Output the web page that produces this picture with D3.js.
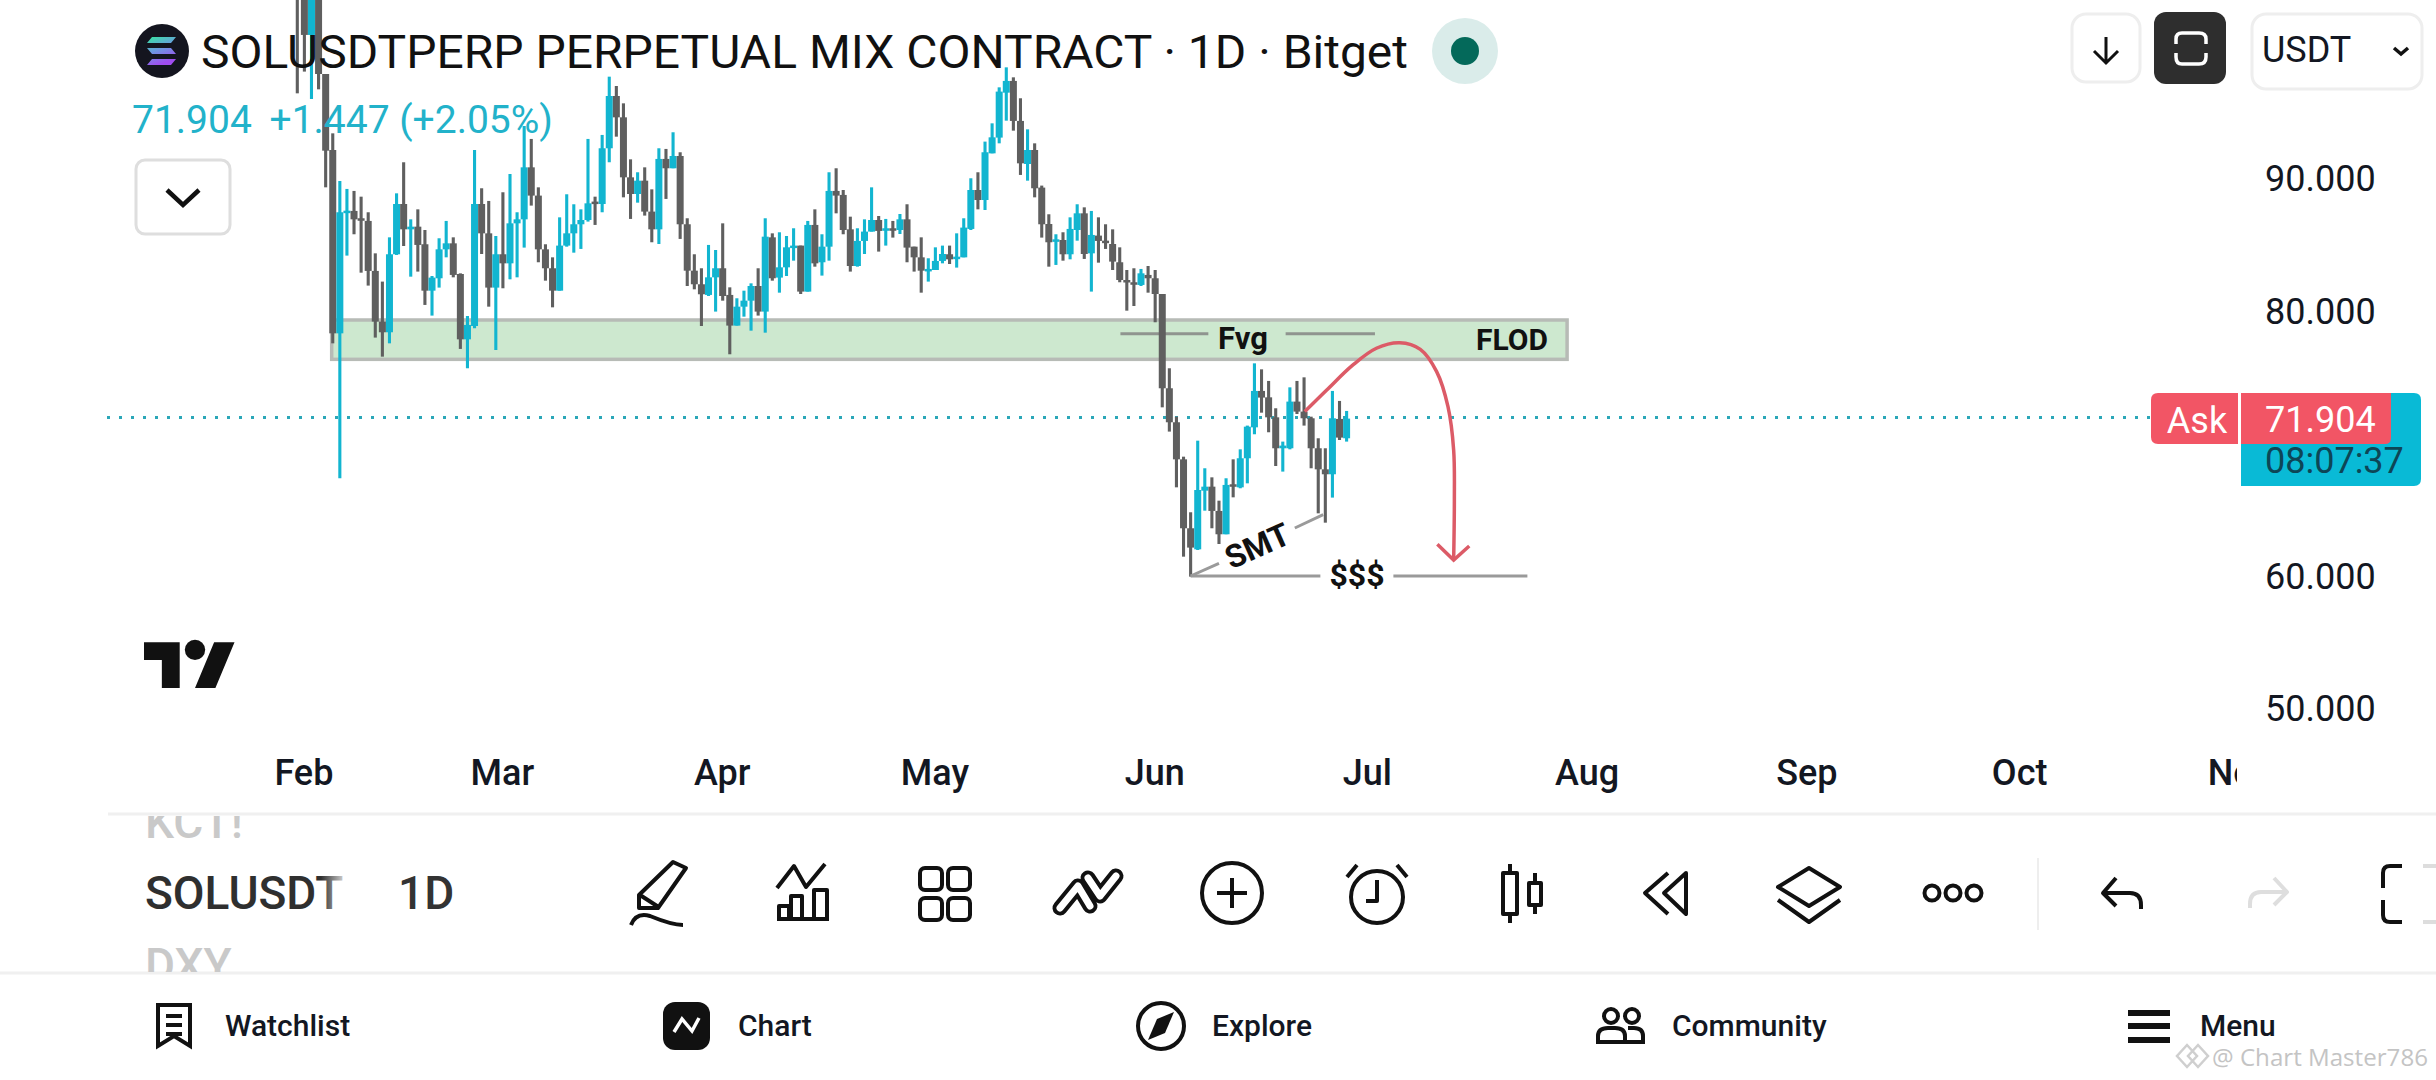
<!DOCTYPE html>
<html><head><meta charset="utf-8">
<script src="https://cdn.jsdelivr.net/npm/d3@7/dist/d3.min.js"></script>
<style>html,body{margin:0;padding:0;background:#fff;overflow:hidden}svg{display:block;font-family:Roboto,sans-serif}</style>
</head><body><svg id="c" width="2436" height="1080"></svg>
<script>
const firstDay="2026-01-31";
const opens=[107,105,100.68,105,97.75,92.05,78.3,87.38,87.48,86.93,86.73,82.98,79.18,78.38,84.23,88,86.1,86.3,84.98,81.5,82.43,84.6,85.05,82.75,77.85,78.85,88,85.8,81.73,84.23,83.55,86.55,86.85,90.75,88.63,84.6,83.18,81.5,84.88,85.8,86.48,86.8,88.18,88,92.18,96.1,94.5,90,88.75,89.75,87.43,86.1,91.38,90.68,91.6,86.48,83,81.98,81.18,82.5,83.18,81.18,78.88,80.3,80.75,81.85,79.93,85.5,82.48,83.25,84.75,84.88,81.43,86.43,83.63,84.8,88.98,88.68,86.1,83.35,85.23,85.93,86.8,86.05,86.18,86.05,86.85,84.8,84,83,83.05,83.73,84.23,83.93,84,86.13,89.05,88.3,91.8,92.98,96.35,97.23,94.23,91,92.05,89.23,86.5,85.18,85.3,84.23,86.05,87.3,84.3,85.63,85.25,85,83.63,82.3,82.13,81.93,82.68,82.43,81.25,74.18,71.63,68.85,63.68,62.1,66.5,66.8,64.98,63.23,66.98,66.75,68.93,71.25,73.98,73.5,72,69.68,69.68,73.18,72.43,71.93,69.68,68.1,67.73,71.88,70.43];
const highs=[108,106,106,106,97.75,93.3,89.73,89.13,88.98,88.55,87.38,84.3,82.18,85.5,88.8,91.13,86.85,87.6,86.05,82.6,85.43,86.73,85.5,82.8,79.6,92.05,89.18,88.23,85.6,88.88,90.25,87.38,93.85,92.88,89.25,84.98,84,87,88.73,87.98,87.6,92.88,88.55,93.18,97.55,96.85,95.55,91.35,90.38,90.75,89.1,92.18,92.13,93.38,91.88,86.93,84.23,83.18,84.93,84.55,86.55,81.75,80.93,81.5,82.05,83.18,86.93,85.8,85.88,85.6,86.18,84.88,86.73,87.6,85.73,90.38,90.68,89.05,87.05,86.18,86.85,89.25,87.1,86.88,86.73,87.25,87.98,84.8,85.5,83.93,84.75,84.88,84.88,85.8,86.93,89.93,90.38,92.68,94.05,96.75,98.25,97.5,95.93,93.6,92.55,89.38,87.23,85.73,85.88,87,87.98,87.75,87.48,87,86.48,86.1,84.75,83.05,83.18,83.13,83.35,83.05,81.25,75.68,72.05,69.05,64.88,70.25,68.18,67.5,65.75,67.43,68.85,69.6,71.38,76.05,75.6,74.73,72.68,70.18,74.25,74.73,75,72.05,70.43,69.68,73.98,73.23,72.48];
const lows=[96.3,97.93,95.88,96.6,89.25,77.55,67.43,84.13,85.73,82.85,81.88,77.98,76.55,77.55,84.18,84.85,82.55,82.93,80.43,79.63,81.73,84,82.5,77.13,75.68,78.68,84.25,80.3,77.05,81.68,82.35,82.5,84.73,87.88,83.63,82.25,80.25,81.5,84.8,84.35,84.63,86.68,86.43,87.38,91.13,93.05,88.5,86.88,88.1,87.13,85.13,85,88.38,90.68,85.38,81.85,81.6,78.85,81.1,79.93,80.75,76.73,78.88,79.55,78.5,79.63,78.35,82.25,81.35,82.6,83.75,81.25,81.43,83.3,82.63,83.75,87.3,85.73,82.93,83.3,84.25,85.93,84.43,84.88,85.48,85.75,83.63,82.93,81.35,82.18,83.05,83.55,83.5,83.23,84,86.05,87.6,87.55,91.8,92.55,94.25,93.5,90.18,89.75,88.5,85.48,83.3,83.43,83.75,83.85,85.25,83.88,81.43,83.6,84.63,83.05,82.13,80,80.35,81.85,81.35,79.13,72.75,70.93,66.75,61.55,60.05,62.05,65,63.68,62.5,63.23,66,66.68,67.05,70.73,72.35,70.88,68.35,67.93,69.6,72.25,71.38,68.18,64.8,64.1,65.98,70.3,70.18];
const closes=[105,100.68,105,97.75,92,78.3,87.38,87.5,86.85,86.78,82.98,79.18,78.38,84.23,88,86.1,86.3,84.93,81.5,82.48,84.6,85.05,82.68,77.85,78.93,88,85.8,81.73,84.23,83.55,86.55,86.85,90.75,88.63,84.6,83.18,81.5,84.88,85.8,86.48,86.8,88.05,88,92.18,96.1,94.5,90,88.75,89.75,87.43,86.1,91.38,90.68,91.6,86.48,83,81.98,81.23,82.5,83.18,81.1,78.88,80.3,80.75,81.85,79.93,85.55,82.43,83.25,84.75,84.88,81.43,86.43,83.55,84.8,88.98,88.63,86.05,83.35,85.23,85.93,86.8,85.98,86.18,86.05,86.85,84.73,84,83,83.13,83.73,84.25,83.85,84.05,86.23,89.05,88.3,91.88,93,96.43,97.23,94.23,91.05,92.05,89.18,86.48,85.13,85.35,84.23,86.13,87.3,84.25,85.68,85.23,85.1,83.68,82.3,82.13,81.98,82.8,82.43,81.25,74.18,71.63,68.85,63.68,62.23,66.55,66.8,64.98,63.23,66.93,66.85,68.93,71.3,73.98,73.48,72,69.68,69.88,73.18,72.43,71.93,69.68,68.1,67.73,71.93,70.48,71.904];
const yTicks=[50,60,80,90];
const lastPrice=71.904;
const zonePrices=[79.3,76.35], zoneDays=[4.85,179.1];
const fvgLevel=76.3+1.97, fvgSegments=[[116.1,128.5],[139.4,152]];
const liqLevel=60.1, liqSegments=[[126,144.3],[154.6,173.5]];
const smtSegments=[[[126,60.1],[130,61.05]],[[140.7,63.7],[144.7,64.7]]];
const arrowDays=[142.1,145.2,148.9,152.2,155.5,158.4,160.7,162.3,163.1,163.2,163.1];
const arrowPrices=[72.43,74.05,75.93,77.18,77.6,77.1,75.43,72.8,69.55,65.8,61.3];
const headDays=[160.8,163.1,165.3], headPrices=[62.48,61.3,62.35];

const svg=d3.select("#c");
const dayMs=864e5, t0=Date.UTC(2026,0,31);
const t=i=>new Date(t0+i*dayMs);
const x=d3.scaleUtc().domain([t(0),t(148)]).range([297.3,1346.6]);
const y=d3.scaleLinear().domain([103.3,50]).range([0,710.67]);
const UP="#12b5d0",DOWN="#5f5f5f",RED="#f25565";
svg.append("rect").attr("width",2436).attr("height",1080).attr("fill","#fff");

// zone
svg.append("rect").attr("x",x(t(zoneDays[0]))).attr("y",y(zonePrices[0])).attr("width",x(t(zoneDays[1]))-x(t(zoneDays[0])))
 .attr("height",y(zonePrices[1])-y(zonePrices[0])).attr("fill","#cde8cf").attr("stroke","#b7bbb6").attr("stroke-width",3.5);

// price line
svg.append("line").attr("x1",107).attr("x2",2151).attr("y1",y(lastPrice)-1).attr("y2",y(lastPrice)-1)
 .attr("stroke","#2ba7b8").attr("stroke-width",3).attr("stroke-dasharray","3 9");

// annotation lines under candles
const ann=svg.append("g").attr("stroke","#8f948f").attr("stroke-width",3).attr("fill","none");
fvgSegments.forEach(s=>ann.append("line").attr("x1",x(t(s[0]))).attr("x2",x(t(s[1]))).attr("y1",y(fvgLevel)).attr("y2",y(fvgLevel)));

// candles
const candles=d3.range(opens.length).map(i=>({i,o:opens[i],h:highs[i],l:lows[i],c:closes[i]}));
const g=svg.append("g");
g.selectAll(".w").data(candles).join("line").attr("x1",d=>x(t(d.i))).attr("x2",d=>x(t(d.i))).attr("y1",d=>y(d.h)).attr("y2",d=>y(d.l))
 .attr("stroke",d=>d.c>=d.o?UP:DOWN).attr("stroke-width",3.1);
g.selectAll(".b").data(candles).join("rect").attr("x",d=>x(t(d.i))-3.5).attr("width",7)
 .attr("y",d=>y(Math.max(d.o,d.c))).attr("height",d=>Math.max(2.5,Math.abs(y(d.o)-y(d.c))))
 .attr("fill",d=>d.c>=d.o?UP:DOWN);

// annotations
const ann2=svg.append("g").attr("stroke","#9a9a9a").attr("stroke-width",3).attr("fill","none");
liqSegments.forEach(s=>ann2.append("line").attr("x1",x(t(s[0]))).attr("x2",x(t(s[1]))).attr("y1",y(liqLevel)).attr("y2",y(liqLevel)));
smtSegments.forEach(s=>ann2.append("line").attr("x1",x(t(s[0][0]))).attr("y1",y(s[0][1])).attr("x2",x(t(s[1][0]))).attr("y2",y(s[1][1])));
const labelStyle=s=>s.attr("font-family","Roboto").attr("font-weight",700).attr("fill","#111");
svg.append("text").attr("x",1243).attr("y",349).attr("text-anchor","middle").attr("font-size",31).text("Fvg").call(labelStyle);
svg.append("text").attr("x",1512).attr("y",350).attr("text-anchor","middle").attr("font-size",30).text("FLOD").call(labelStyle);
svg.append("text").attr("x",1357).attr("y",586).attr("text-anchor","middle").attr("font-size",32).text("$$$").call(labelStyle);
svg.append("text").attr("transform","translate(1262,556) rotate(-24)").attr("text-anchor","middle").attr("font-size",32).text("SMT").call(labelStyle);
const ln=d3.line().x(d=>x(t(d[0]))).y(d=>y(d[1]));
svg.append("path").attr("d",ln.curve(d3.curveCatmullRom)(d3.zip(arrowDays,arrowPrices))).attr("fill","none").attr("stroke","#dc5b67").attr("stroke-width",3.5);
svg.append("path").attr("d",ln.curve(d3.curveLinear)(d3.zip(headDays,headPrices))).attr("fill","none").attr("stroke","#dc5b67").attr("stroke-width",3.5);

// axes
const yTickScale=d3.scaleLinear().domain([90,50]).range([178,708]);
const yAxis=svg.append("g").attr("transform","translate(2265,0)").call(d3.axisRight(yTickScale).tickValues(yTicks).tickSize(0).tickPadding(0).tickFormat(d3.format(".3f")));
yAxis.select(".domain").remove();
yAxis.selectAll("text").attr("font-family","Roboto").attr("font-size",36).attr("fill","#131722").attr("dy","0.36em");
const xMax=new Date(Date.UTC(2026,10,2));
const xAxisScale=x.copy().domain([t(0),xMax]).range([x(t(0)),x(xMax)]);
svg.append("clipPath").attr("id","xc").append("rect").attr("x",0).attr("y",740).attr("width",2237).attr("height",70);
const xAxis=svg.append("g").attr("clip-path","url(#xc)").append("g").attr("transform","translate(-1,772)")
 .call(d3.axisBottom(xAxisScale).ticks(d3.utcMonth.every(1)).tickSize(0).tickPadding(0).tickFormat(d3.utcFormat("%b")));
xAxis.select(".domain").remove();
xAxis.selectAll("text").attr("font-family","Roboto").attr("font-weight",500).attr("font-size",36).attr("fill","#131722").attr("dy","0.36em");

// tradingview logo
svg.append("path").attr("transform","translate(144,632) scale(2.55)").attr("fill","#111")
 .attr("d","M14 22H7V11H0V4h14v18zM28 22h-8l7.5-18h8L28 22z");
svg.append("circle").attr("cx",144+20*2.55).attr("cy",632+7*2.55).attr("r",4*2.55).attr("fill","#111");

// header
svg.append("circle").attr("cx",162).attr("cy",51).attr("r",27).attr("fill","#14151f");
const defs=svg.append("defs");
const lg=defs.append("linearGradient").attr("id","sol").attr("x1",0).attr("y1",0).attr("x2",0.4).attr("y2",1);
lg.append("stop").attr("offset",0).attr("stop-color","#36e6a0");lg.append("stop").attr("offset",.5).attr("stop-color","#6a9be0");lg.append("stop").attr("offset",1).attr("stop-color","#a04df0");
svg.append("path").attr("fill","url(#sol)").attr("d","M152 37h24l-5 6h-24zM147 48h24l5 6h-24zM152 59h24l-5 6h-24z");
svg.append("text").attr("x",201).attr("y",68).attr("font-size",47).attr("fill","#111").attr("textLength",1207).attr("lengthAdjust","spacingAndGlyphs").text("SOLUSDTPERP PERPETUAL MIX CONTRACT · 1D · Bitget");
svg.append("circle").attr("cx",1465).attr("cy",51).attr("r",33).attr("fill","#daecea");
svg.append("circle").attr("cx",1465).attr("cy",51).attr("r",14).attr("fill","#04695a");
svg.append("text").attr("x",132).attr("y",133).attr("font-size",39).attr("fill","#22b2ca").text("71.904");
svg.append("text").attr("x",269.5).attr("y",133).attr("font-size",39).attr("fill","#22b2ca").text("+1.447 (+2.05%)");
svg.append("rect").attr("x",136).attr("y",160).attr("width",94).attr("height",74).attr("rx",9).attr("fill","#fff").attr("stroke","#dedede").attr("stroke-width",3);
svg.append("path").attr("d","M167 190L183 205L199 190").attr("fill","none").attr("stroke","#111").attr("stroke-width",4.5);

// top-right
const box=(a,b,w,h,r)=>svg.append("rect").attr("x",a).attr("y",b).attr("width",w).attr("height",h).attr("rx",r).attr("fill","#fff").attr("stroke","#eeeeee").attr("stroke-width",3);
box(2072,14,68,68,14);
svg.append("path").attr("d","M2106 37V62M2094 51L2106 63L2118 51").attr("fill","none").attr("stroke","#111").attr("stroke-width",3);
svg.append("rect").attr("x",2154).attr("y",12).attr("width",72).attr("height",72).attr("rx",12).attr("fill","#2e2e2e");
svg.append("path").attr("d","M2176 44V39Q2176 33 2182 33H2199Q2206 33 2206 39V44M2176 53V57Q2176 64 2182 64H2199Q2206 64 2206 57V53").attr("fill","none").attr("stroke","#fff").attr("stroke-width",3.5);
box(2252,14,170,75,14);
svg.append("text").attr("x",2262).attr("y",62).attr("font-size",36).attr("fill","#131722").text("USDT");
svg.append("path").attr("d","M2394 48L2401 54L2408 48").attr("fill","none").attr("stroke","#111").attr("stroke-width",3.5);

// price labels
svg.append("path").attr("fill","#09bad6").attr("d","M2241 393H2414q7 0 7 7V479q0 7-7 7H2241z");
svg.append("path").attr("fill",RED).attr("d","M2241 393H2391V438q0 6-6 6H2241z");
svg.append("path").attr("fill",RED).attr("d","M2158 393H2238V444H2158q-7 0-7-7V400q0-7 7-7z");
svg.append("text").attr("x",2197).attr("y",433).attr("text-anchor","middle").attr("font-size",36).attr("fill","#fff").text("Ask");
svg.append("text").attr("x",2265).attr("y",432).attr("font-size",36).attr("fill","#fff").text("71.904");
svg.append("text").attr("x",2265).attr("y",473).attr("font-size",36).attr("fill","#0d4656").text("08:07:37");

// rules
svg.append("line").attr("x1",108).attr("x2",2436).attr("y1",814).attr("y2",814).attr("stroke","#f0f0f0").attr("stroke-width",3);
svg.append("line").attr("x1",0).attr("x2",2436).attr("y1",973).attr("y2",973).attr("stroke","#f0f0f0").attr("stroke-width",3);

// symbol strip
svg.append("clipPath").attr("id","strip").append("rect").attr("x",0).attr("y",816).attr("width",2436).attr("height",156);
svg.append("clipPath").attr("id","strip2").append("rect").attr("x",0).attr("y",816).attr("width",345).attr("height",156);
const sg=svg.append("g").attr("clip-path","url(#strip)").attr("font-weight",500).attr("font-size",46);
const f1=defs.append("linearGradient").attr("id","fr").attr("gradientUnits","userSpaceOnUse").attr("x1",145).attr("x2",345).attr("y1",0).attr("y2",0);
f1.append("stop").attr("offset",.88).attr("stop-color","#2f2f2f");f1.append("stop").attr("offset",1).attr("stop-color","#d8d8d8");
sg.append("text").attr("x",145).attr("y",838).attr("fill","#c9c9c9").text("KCT!");
svg.append("g").attr("clip-path","url(#strip2)").attr("font-weight",500).attr("font-size",46)
 .append("text").attr("x",145).attr("y",909).attr("fill","url(#fr)").text("SOLUSDT");
sg.append("text").attr("x",398).attr("y",909).attr("fill","#333").text("1D");
sg.append("text").attr("x",145).attr("y",981).attr("fill","#c9c9c9").text("DXY");

// toolbar icons
const ic=svg.append("g").attr("fill","none").attr("stroke","#111").attr("stroke-width",4).attr("stroke-linejoin","round");
ic.append("path").attr("d","M639 908V895L673 862L686 868L658 908ZM640 895L657 906M631 925Q636 912 650 916Q672 925 683 925");
ic.append("path").attr("d","M777 888L794 866L806 887L825 864M779 918V906H789V918M791 918V896H802V918M814 918V890H827V918M777 919H829");
[920,948].forEach(a=>[868,898].forEach(b=>ic.append("rect").attr("x",a).attr("y",b).attr("width",22).attr("height",22).attr("rx",5)));
ic.append("path").attr("d","M1060 908L1078 886L1090 906").attr("stroke-width",15).attr("stroke-linecap","round");
ic.append("path").attr("d","M1060 908L1078 886L1090 906").attr("stroke","#fff").attr("stroke-width",7).attr("stroke-linecap","round");
ic.append("path").attr("d","M1088 878L1100 896L1116 876").attr("stroke-width",15).attr("stroke-linecap","round");
ic.append("path").attr("d","M1088 878L1100 896L1116 876").attr("stroke","#fff").attr("stroke-width",7).attr("stroke-linecap","round");
ic.append("circle").attr("cx",1232).attr("cy",893).attr("r",30);
ic.append("path").attr("d","M1232 878V908M1217 893H1247");
ic.append("circle").attr("cx",1377).attr("cy",897).attr("r",26);
ic.append("path").attr("d","M1377 880V901H1366M1347 877L1357 865M1407 877L1397 865");
ic.append("path").attr("d","M1510 864V923M1535 873V914");
ic.append("rect").attr("x",1503).attr("y",873).attr("width",14).attr("height",41).attr("fill","#fff");
ic.append("rect").attr("x",1529).attr("y",883).attr("width",12).attr("height",22).attr("fill","#fff");
ic.append("path").attr("d","M1686 873L1664 893L1686 914ZM1668 873L1645 893L1668 914");
ic.append("path").attr("d","M1809 868L1840 887L1809 906L1778 887ZM1778 900L1809 922L1840 900");
[1932,1953,1974].forEach(a=>ic.append("circle").attr("cx",a).attr("cy",893).attr("r",7.5));
svg.append("line").attr("x1",2038).attr("x2",2038).attr("y1",858).attr("y2",930).attr("stroke","#eee").attr("stroke-width",2);
ic.append("path").attr("d","M2116 878L2103 893L2116 906M2103 893H2130Q2141 893 2141 905V909");
ic.append("path").attr("stroke","#dedede").attr("d","M2274 878L2287 892L2274 905M2287 892H2261Q2250 892 2250 904V908");
ic.append("path").attr("d","M2402 866H2390Q2383 866 2383 873V888M2383 900V915Q2383 922 2390 922H2402");
ic.append("path").attr("stroke","#ddd").attr("d","M2423 866H2436M2423 922H2436");

// nav
const nav=svg.append("g").attr("font-weight",500).attr("font-size",30).attr("fill","#131722");
[["Watchlist",225],["Chart",738],["Explore",1212],["Community",1672],["Menu",2200]].forEach(d=>nav.append("text").attr("x",d[1]).attr("y",1036).text(d[0]));
const ni=svg.append("g").attr("fill","none").attr("stroke","#111").attr("stroke-width",4);
ni.append("path").attr("d","M158 1005H190V1046L174 1036L158 1046ZM166 1016H182M166 1025H182M166 1034H182");
svg.append("rect").attr("x",663).attr("y",1002).attr("width",47).attr("height",48).attr("rx",12).attr("fill","#111");
svg.append("path").attr("d","M674 1032L682 1019L692 1031L699 1018").attr("fill","none").attr("stroke","#fff").attr("stroke-width",3.5);
ni.append("circle").attr("cx",1161).attr("cy",1026).attr("r",23);
svg.append("path").attr("d","M1174 1012L1165 1033L1148 1040L1157 1019Z").attr("fill","#111");
ni.append("circle").attr("cx",1611).attr("cy",1016).attr("r",7);
ni.append("circle").attr("cx",1632).attr("cy",1016).attr("r",7);
ni.append("path").attr("d","M1598 1042V1036Q1598 1028 1608 1028H1615Q1625 1028 1625 1036V1042ZM1628 1028H1634Q1643 1028 1643 1036V1042H1626");
svg.append("g").attr("fill","#111").selectAll("rect").data([1010,1023,1037]).join("rect").attr("x",2128).attr("y",d=>d).attr("width",42).attr("height",6);
svg.append("path").attr("d","M2187 1045L2197 1056L2187 1067L2177 1056ZM2198 1045L2208 1056L2198 1067L2188 1056Z").attr("fill","none").attr("stroke","#cfcfcf").attr("stroke-width",2.5);
svg.append("text").attr("x",2212).attr("y",1066).attr("font-family","Open Sans").attr("font-size",24).attr("textLength",216).attr("lengthAdjust","spacingAndGlyphs").attr("fill","#c4c4c4").text("@ Chart Master786");
</script></body></html>
